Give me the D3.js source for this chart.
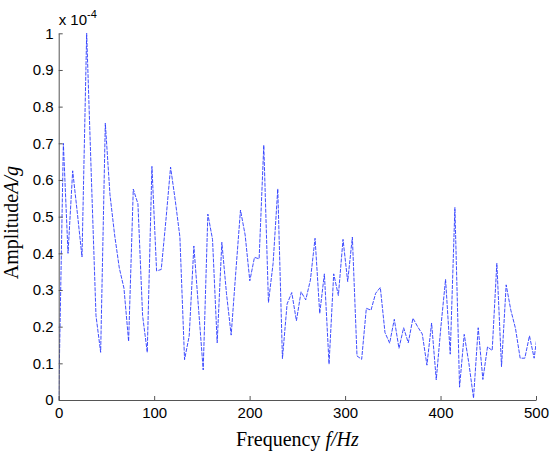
<!DOCTYPE html>
<html>
<head>
<meta charset="utf-8">
<script src="https://cdn.jsdelivr.net/npm/d3@7"></script>
<style>
  body { margin: 0; background: #fff; }
</style>
</head>
<body>
<div class="chart"></div>
<script>
// FFT bins (Hz) and amplitude (x 1e-4)
const freqs = [0, 4.88, 9.77, 14.65, 19.53, 24.41, 29.30, 34.18, 39.06, 43.95,
  48.83, 53.71, 58.59, 63.48, 68.36, 73.24, 78.13, 83.01, 87.89, 92.77,
  97.66, 102.54, 107.42, 112.30, 117.19, 122.07, 126.95, 131.84, 136.72, 141.60,
  146.48, 151.37, 156.25, 161.13, 166.02, 170.90, 175.78, 180.66, 185.55, 190.43,
  195.31, 200.20, 205.08, 209.96, 214.84, 219.73, 224.61, 229.49, 234.38, 239.26,
  244.14, 249.02, 253.91, 258.79, 263.67, 268.55, 273.44, 278.32, 283.20, 288.09,
  292.97, 297.85, 302.73, 307.62, 312.50, 317.38, 322.27, 327.15, 332.03, 336.91,
  341.80, 346.68, 351.56, 356.45, 361.33, 366.21, 371.09, 375.98, 380.86, 385.74,
  390.63, 395.51, 400.39, 405.27, 410.16, 415.04, 419.92, 424.80, 429.69, 434.57,
  439.45, 444.34, 449.22, 454.10, 458.98, 463.87, 468.75, 473.63, 478.52, 483.40,
  488.28, 493.16, 498.05, 502.93];
const amps = [0, 0.70, 0.40, 0.625, 0.51, 0.39, 1.00, 0.61, 0.23, 0.13,
  0.755, 0.56, 0.45, 0.36, 0.305, 0.16, 0.575, 0.535, 0.23, 0.13,
  0.637, 0.352, 0.356, 0.49, 0.635, 0.545, 0.445, 0.11, 0.175, 0.42,
  0.25, 0.082, 0.507, 0.438, 0.156, 0.43, 0.29, 0.177, 0.35, 0.518,
  0.45, 0.325, 0.389, 0.385, 0.695, 0.266, 0.373, 0.576, 0.113, 0.262,
  0.293, 0.216, 0.295, 0.273, 0.327, 0.441, 0.236, 0.344, 0.098, 0.344,
  0.285, 0.438, 0.323, 0.444, 0.12, 0.111, 0.25, 0.245, 0.291, 0.307,
  0.184, 0.155, 0.22, 0.141, 0.197, 0.156, 0.223, 0.2, 0.18, 0.095,
  0.21, 0.055, 0.2, 0.329, 0.125, 0.525, 0.035, 0.179, 0.1, 0.005,
  0.197, 0.056, 0.145, 0.135, 0.373, 0.091, 0.314, 0.245, 0.195, 0.114,
  0.114, 0.175, 0.114, 0.21];
const xTicks = [0, 100, 200, 300, 400, 500];
const yTicks = [0, 0.1, 0.2, 0.3, 0.4, 0.5, 0.6, 0.7, 0.8, 0.9, 1];

const margin = { top: 33.3, right: 14, bottom: 55, left: 58.7 };
const width = 550 - margin.left - margin.right,
  height = 455 - margin.top - margin.bottom;

const svg = d3
  .select(".chart")
  .append("svg")
  .attr("width", 550)
  .attr("height", 455)
  .append("g")
  .attr("transform", "translate(" + margin.left + "," + margin.top + ")");

const xScale = d3.scaleLinear().domain([0, 500]).range([0, width]);
const yScale = d3.scaleLinear().domain([0, 1]).range([height, 0]);

svg.append("clipPath").attr("id", "clip")
  .append("rect").attr("width", width).attr("height", height + 1).attr("y", -1);

const data = freqs.map((f, i) => ({ f: f, a: amps[i] }));

const line = d3.line().x((d) => xScale(d.f)).y((d) => yScale(d.a));

svg.append("path")
  .datum(data)
  .attr("clip-path", "url(#clip)")
  .attr("fill", "none")
  .attr("stroke", "#2b3bff")
  .attr("stroke-width", 0.9)
  .attr("stroke-dasharray", "4,1.2")
  .attr("d", line);

//axes, ticks inside like matlab
const gx = svg.append("g")
  .attr("class", "x axis")
  .attr("transform", `translate(0,${height})`)
  .call(d3.axisBottom(xScale).tickValues(xTicks).tickSizeInner(-4).tickSizeOuter(0).tickPadding(7));

const gy = svg.append("g")
  .attr("class", "y axis")
  .call(d3.axisLeft(yScale).tickValues(yTicks).tickSizeInner(-4).tickSizeOuter(0).tickPadding(5)
    .tickFormat((d) => d3.format("")(+d.toFixed(1))));

[gx, gy].forEach((g) => {
  g.attr("font-size", 15).attr("font-family", "Liberation Sans, Arial, sans-serif");
  g.selectAll("text").attr("fill", "#000");
  g.selectAll("path, line").attr("stroke", "#555");
});

// exponent label
const expo = svg.append("text")
  .attr("x", 0)
  .attr("y", -8)
  .attr("font-family", "Liberation Sans, Arial, sans-serif")
  .attr("font-size", 15);
expo.append("tspan").text("x 10");
expo.append("tspan").attr("dy", -7).attr("font-size", 11).text("-4");

// axis titles
const xl = svg.append("text")
  .attr("x", width / 2)
  .attr("y", height + 46)
  .attr("text-anchor", "middle")
  .attr("font-family", "Liberation Serif, Times New Roman, serif")
  .attr("font-size", 20);
xl.append("tspan").text("Frequency ");
xl.append("tspan").attr("font-style", "italic").text("f/Hz");

const yl = svg.append("text")
  .attr("transform", `translate(${18 - margin.left},${height / 2 + 6}) rotate(-90)`)
  .attr("text-anchor", "middle")
  .attr("font-family", "Liberation Serif, Times New Roman, serif")
  .attr("font-size", 20);
yl.append("tspan").text("Amplitude");
yl.append("tspan").attr("font-style", "italic").text("A/g");
</script>
</body>
</html>
